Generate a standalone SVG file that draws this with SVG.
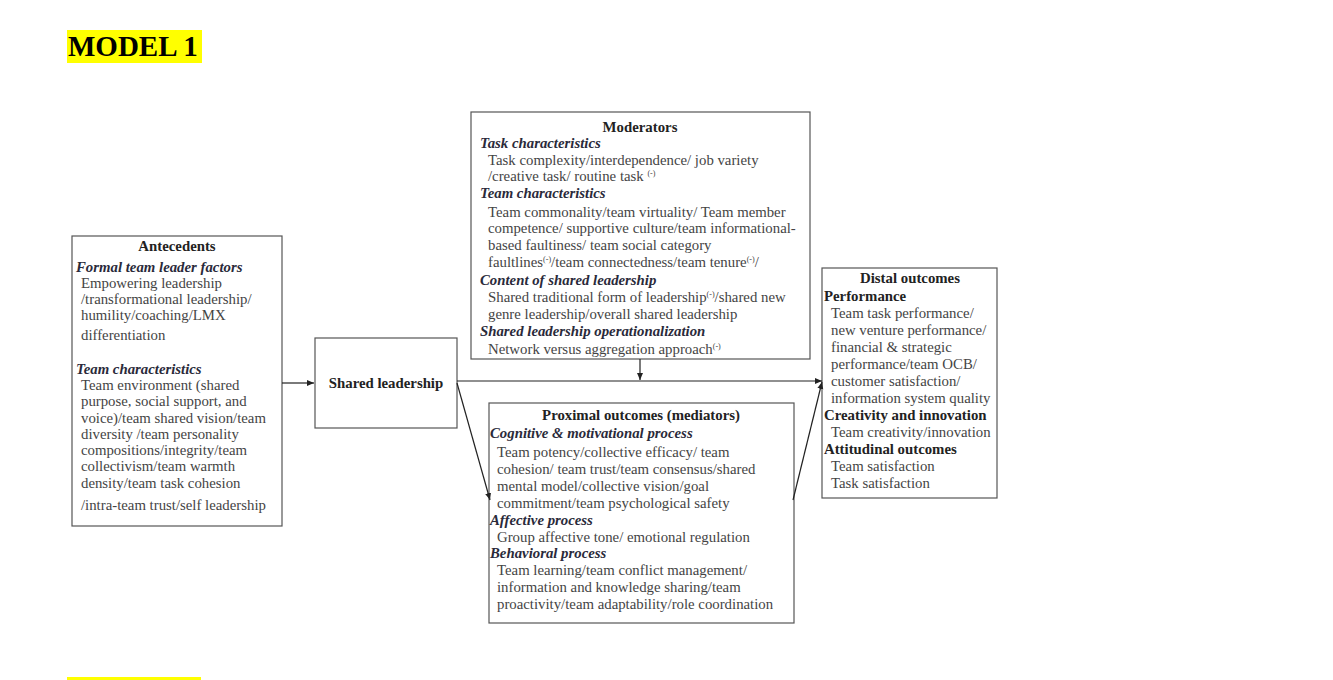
<svg xmlns="http://www.w3.org/2000/svg" width="1333" height="680" viewBox="0 0 1333 680">
<style>
.box{fill:#fff;stroke:#555;stroke-width:1.2}
text{font-family:"Liberation Serif","Times New Roman",serif;font-size:14.8px;fill:#444}
.t{font-weight:bold;fill:#222;text-anchor:middle}
.h{font-weight:bold;font-style:italic;fill:#2a2a3a}
.b{font-weight:bold;fill:#222}
.sup{font-size:8px}
.ln{stroke:#222;stroke-width:1.2;fill:none}
</style>
<defs>
<marker id="ah" markerWidth="8" markerHeight="8" refX="7" refY="4" orient="auto" markerUnits="userSpaceOnUse">
<path d="M0,1 L7,4 L0,7 Z" fill="#222"/>
</marker>
</defs>
<rect x="67" y="30" width="135" height="33" fill="#ffff00"/>
<text x="68" y="56" style="font-size:29px;font-weight:bold;fill:#000">MODEL 1</text>
<rect x="67" y="677" width="134" height="3" fill="#ffff00"/>

<g id="antecedents">
<rect class="box" x="72" y="236" width="210" height="290"/>
<text class="t" x="177" y="251">Antecedents</text>
<text class="h" x="76" y="272">Formal team leader factors</text>
<text x="81" y="288">Empowering leadership</text>
<text x="81" y="304">/transformational leadership/</text>
<text x="81" y="320">humility/coaching/LMX</text>
<text x="81" y="340">differentiation</text>
<text class="h" x="76" y="374">Team characteristics</text>
<text x="81" y="390">Team environment (shared</text>
<text x="81" y="406">purpose, social support, and</text>
<text x="81" y="423">voice)/team shared vision/team</text>
<text x="81" y="439">diversity /team personality</text>
<text x="81" y="455">compositions/integrity/team</text>
<text x="81" y="471">collectivism/team warmth</text>
<text x="81" y="488">density/team task cohesion</text>
<text x="81" y="510">/intra-team trust/self leadership</text>
</g>

<g id="shared">
<rect class="box" x="315" y="338" width="142" height="90"/>
<text class="t" x="386" y="388">Shared leadership</text>
</g>

<g id="moderators">
<rect class="box" x="471" y="112" width="339" height="247"/>
<text class="t" x="640" y="132">Moderators</text>
<text class="h" x="480" y="148">Task characteristics</text>
<text x="488" y="165">Task complexity/interdependence/ job variety</text>
<text x="488" y="181">/creative task/ routine task <tspan class="sup" dy="-5">(-)</tspan></text>
<text class="h" x="480" y="198">Team characteristics</text>
<text x="488" y="217">Team commonality/team virtuality/ Team member</text>
<text x="488" y="233">competence/ supportive culture/team informational-</text>
<text x="488" y="250">based faultiness/ team social category</text>
<text x="488" y="267">faultlines<tspan class="sup" dy="-5">(-)</tspan><tspan dy="5">/team connectedness/team tenure</tspan><tspan class="sup" dy="-5">(-)</tspan><tspan dy="5">/</tspan></text>
<text class="h" x="480" y="285">Content of shared leadership</text>
<text x="488" y="302">Shared traditional form of leadership<tspan class="sup" dy="-5">(-)</tspan><tspan dy="5">/shared new</tspan></text>
<text x="488" y="319">genre leadership/overall shared leadership</text>
<text class="h" x="480" y="336">Shared leadership operationalization</text>
<text x="488" y="354">Network versus aggregation approach<tspan class="sup" dy="-5">(-)</tspan></text>
</g>

<g id="proximal">
<rect class="box" x="489" y="403" width="305" height="220"/>
<text class="t" x="641" y="420">Proximal outcomes (mediators)</text>
<text class="h" x="490" y="438">Cognitive &amp; motivational process</text>
<text x="497" y="457">Team potency/collective efficacy/ team</text>
<text x="497" y="474">cohesion/ team trust/team consensus/shared</text>
<text x="497" y="491">mental model/collective vision/goal</text>
<text x="497" y="508">commitment/team psychological safety</text>
<text class="h" x="490" y="525">Affective process</text>
<text x="497" y="542">Group affective tone/ emotional regulation</text>
<text class="h" x="490" y="558">Behavioral process</text>
<text x="497" y="575">Team learning/team conflict management/</text>
<text x="497" y="592">information and knowledge sharing/team</text>
<text x="497" y="609">proactivity/team adaptability/role coordination</text>
</g>

<g id="distal">
<rect class="box" x="822" y="268" width="175" height="230"/>
<text class="t" x="910" y="283">Distal outcomes</text>
<text class="b" x="824" y="301">Performance</text>
<text x="831" y="318">Team task performance/</text>
<text x="831" y="335">new venture performance/</text>
<text x="831" y="352">financial &amp; strategic</text>
<text x="831" y="369">performance/team OCB/</text>
<text x="831" y="386">customer satisfaction/</text>
<text x="831" y="403">information system quality</text>
<text class="b" x="824" y="420">Creativity and innovation</text>
<text x="831" y="437">Team creativity/innovation</text>
<text class="b" x="824" y="454">Attitudinal outcomes</text>
<text x="831" y="471">Team satisfaction</text>
<text x="831" y="488">Task satisfaction</text>
</g>

<g id="connectors">
<line class="ln" x1="282" y1="383" x2="314" y2="383" marker-end="url(#ah)"/>
<line class="ln" x1="457" y1="381" x2="822" y2="381" marker-end="url(#ah)"/>
<line class="ln" x1="640" y1="359" x2="640" y2="380" marker-end="url(#ah)"/>
<line class="ln" x1="457" y1="383" x2="490" y2="500" marker-end="url(#ah)"/>
<line class="ln" x1="793" y1="500" x2="822" y2="382" marker-end="url(#ah)"/>
</g>
</svg>
